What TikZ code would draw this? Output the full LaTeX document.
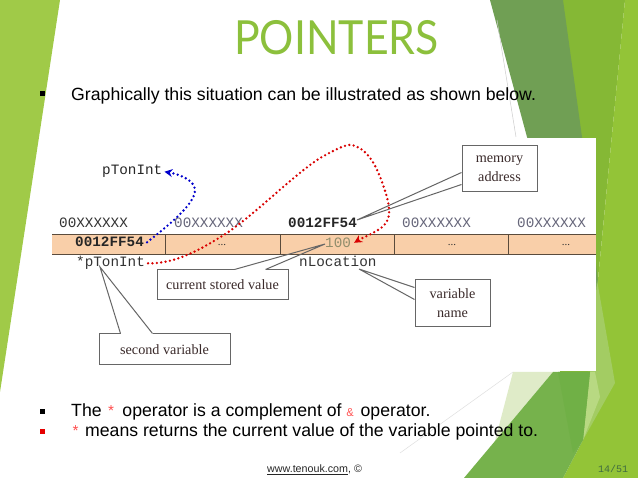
\documentclass[tikz,border=0pt]{standalone}
\usepackage{fontspec}
\usepackage{graphicx}
\usetikzlibrary{arrows.meta}
\setmainfont{Liberation Sans}
\newfontfamily\monof{Liberation Mono}
\newfontfamily\serif{Liberation Serif}
\newfontfamily\titlef{Lato}
\definecolor{leftgreen}{HTML}{A0CA48}
\definecolor{darkgreen}{HTML}{709F54}
\definecolor{midband}{HTML}{85B835}
\definecolor{lime}{HTML}{93C437}
\definecolor{lowgreen}{HTML}{76B24C}
\definecolor{lowdark}{HTML}{70B046}
\definecolor{palegreen}{HTML}{DFEBC8}
\definecolor{softgreen}{HTML}{A3CC63}
\definecolor{softer}{HTML}{B8D982}
\definecolor{peach}{HTML}{F9CFA9}
\definecolor{bandline}{HTML}{5A4B3C}
\definecolor{titlegreen}{HTML}{8CC03C}
\definecolor{callline}{HTML}{666666}
\definecolor{calltext}{HTML}{3A2A2A}
\tikzset{
  x=1pt,y=-1pt,
  mono/.style={inner sep=0pt,anchor=base west,font=\monof\fontsize{14.3}{14.3}\selectfont,text=#1},
  monob/.style={inner sep=0pt,anchor=base west,font=\monof\bfseries\fontsize{14.3}{14.3}\selectfont,text=#1},
  body/.style={inner sep=0pt,anchor=base west,font=\fontsize{17.68}{17.68}\selectfont,text=black},
  callbox/.style={draw=callline,line width=1pt,fill=white,align=center,inner sep=0pt,
     font=\serif\fontsize{14.2}{19}\selectfont,text=calltext},
  callptr/.style={draw=callline,line width=1pt},
  callgap/.style={draw=white,line width=1.6pt},
  dots/.style={line width=2.6pt,line cap=round,dash pattern=on 0pt off 4.4pt,
     -{Stealth[length=8pt,width=8pt]}},
  divider/.style={draw=bandline,line width=1pt},
  bullet/.style={minimum size=5pt,inner sep=0pt,fill=#1}
}
\begin{document}
\begin{tikzpicture}
\useasboundingbox (0,0) rectangle (638,478);
\fill[white] (0,0) rectangle (638,478);
% slide decoration
\fill[leftgreen] (0,0) -- (60,0) -- (0,392) -- cycle;
\fill[midband] (563,0) -- (625,0) -- (597,290) -- (597,372) -- (560,372) -- cycle;
\fill[darkgreen] (490,0) -- (563,0) -- (582,137) -- (600,300) -- (597,300) -- (527,137) -- cycle;
\draw[color=gray!40,line width=.5pt] (497,20) -- (516,137);
\fill[lime] (625,0) -- (638,0) -- (638,478) -- (563,478) -- (583,440) -- (597,372) -- (597,290) -- cycle;
\fill[softgreen] (597,280) -- (615,383) -- (583,440) -- (590,372) -- cycle;
\fill[softer] (588,372) -- (595,372) -- (600,397) -- (583,440) -- cycle;
\fill[palegreen] (513,372) -- (553,372) -- (495,441) -- cycle;
\draw[color=gray!25,line width=.5pt] (513,372) -- (400,453);
\fill[lowgreen] (464,478) -- (553,372) -- (590,372) -- (583,440) -- (563,478) -- cycle;
\fill[lowdark] (558,372) -- (590,372) -- (583,440) -- (573,453) -- cycle;
% picture panel
\fill[white] (45,138) rectangle (596,371);
% title
\node[inner sep=0pt,anchor=base,font=\titlef\fontsize{47}{47}\selectfont,text=titlegreen] (title) at (336.5,55) {\scalebox{.91}[1]{POINTERS}};
% body text
\node[bullet=black] (b1) at (42.5,93.5) {};
\node[body] (t1) at (71,100.5) {Graphically this situation can be illustrated as shown below.};
\node[bullet=black] (b2) at (42.5,412) {};
\node[body] (t2) at (71,417) {The {\monof\fontsize{15}{15}\selectfont\color{red!70!white} *}\kern2pt{} operator is a complement of {\monof\fontsize{12}{12}\selectfont\color{red!65!white} \&}\kern2pt{} operator.};
\node[bullet=red!90!black] (b3) at (42.5,432) {};
\node[body] (t3) at (71,437) {{\monof\fontsize{15}{15}\selectfont\color{red!70!white} *} means returns the current value of the variable pointed to.};
\node[inner sep=0pt,anchor=base west,font=\fontsize{10.7}{10.7}\selectfont,text=black!85] (foot) at (267,473) {\underline{\smash{www.tenouk.com}}, ©};
\node[inner sep=0pt,anchor=base west,font=\monof\fontsize{10}{10}\selectfont,text=black!65!green!50!gray] (page) at (598,473) {14/51};
% memory band
\fill[peach] (52,235) rectangle (596,255);
\draw[divider] (52,235) -- (596,235) (52,255) -- (596,255);
\draw[divider] (165.5,235) -- (165.5,255) (280,235) -- (280,255) (394.5,235) -- (394.5,255) (508,235) -- (508,255);
\node[mono=black!80] (a1) at (59,228) {00XXXXXX};
\node[mono=black!60!blue!20!gray] (a2) at (174,228) {00XXXXXX};
\node[monob=black!85] (a3) at (288,228) {0012FF54};
\node[mono=black!60!blue!20!gray] (a4) at (402,228) {00XXXXXX};
\node[mono=black!60!blue!20!gray] (a5) at (517,228) {00XXXXXX};
\node[monob=black!85] (v1) at (75,247) {0012FF54};
\node[inner sep=0pt,font=\serif\fontsize{11}{11}\selectfont,text=black!80] (v2) at (222,245) {...};
\node[mono=black!50!yellow!50!gray] (v3) at (325,247.5) {100};
\node[inner sep=0pt,font=\serif\fontsize{11}{11}\selectfont,text=black!80] (v4) at (452,245) {...};
\node[inner sep=0pt,font=\serif\fontsize{11}{11}\selectfont,text=black!80] (v5) at (566,245) {...};
\node[mono=black!80] (star) at (76,267) {*pTonInt};
\node[mono=black!80] (loc) at (299,267) {nLocation};
\node[mono=black!85] (ptr) at (102,175) {pTonInt};
% callouts
\node[callbox,minimum width=131pt,minimum height=30pt] (cur) at (222.5,285) {current stored value};
\node[callbox,minimum width=131pt,minimum height=31pt] (sec) at (164.5,349.5) {second variable};
\node[callbox,minimum width=75pt,minimum height=46pt] (mem) at (499.5,169) {memory\\address};
\node[callbox,minimum width=75pt,minimum height=47pt] (var) at (452.5,303.5) {variable\\name};
\coordinate (curtip) at (325,244);
\coordinate (sectip) at (100,267);
\coordinate (memtip) at (357,220);
\coordinate (vartip) at (359,269);
\draw[callgap] ([xshift=78pt]cur.north west) -- ([xshift=109pt]cur.north west);
\draw[callptr] ([xshift=78pt]cur.north west) -- (curtip) -- ([xshift=109pt]cur.north west);
\draw[callgap] ([xshift=22pt]sec.north west) -- ([xshift=54pt]sec.north west);
\draw[callptr] ([xshift=22pt]sec.north west) -- (sectip) -- ([xshift=54pt]sec.north west);
\draw[callgap] ([yshift=-27pt]mem.north west) -- ([yshift=-39pt]mem.north west);
\draw[callptr] ([yshift=-27pt]mem.north west) -- (memtip) -- ([yshift=-39pt]mem.north west);
\draw[callgap] ([yshift=-8pt]var.north west) -- ([yshift=-20pt]var.north west);
\draw[callptr] ([yshift=-8pt]var.north west) -- (vartip) -- ([yshift=-20pt]var.north west);
% dotted arrows
\draw[dots,color=blue!80!black] ([xshift=3pt]v1.east) .. controls (165,228) and (195,205) .. (195,190) .. controls (195,180) and (178,174) .. ([xshift=2pt]ptr.east);
\draw[dots,color=red!85!black] ([xshift=3pt]star.east) .. controls (175,264) and (200,250) .. (227,233) .. controls (260,210) and (290,178) .. (320,158) .. controls (335,150) and (345,144) .. (352,145) .. controls (372,150) and (380,175) .. (387,197) .. controls (390,210) and (392,222) .. (378,230) .. controls (370,235) and (362,238) .. ([xshift=3pt]v3.east);
\end{tikzpicture}
\end{document}
